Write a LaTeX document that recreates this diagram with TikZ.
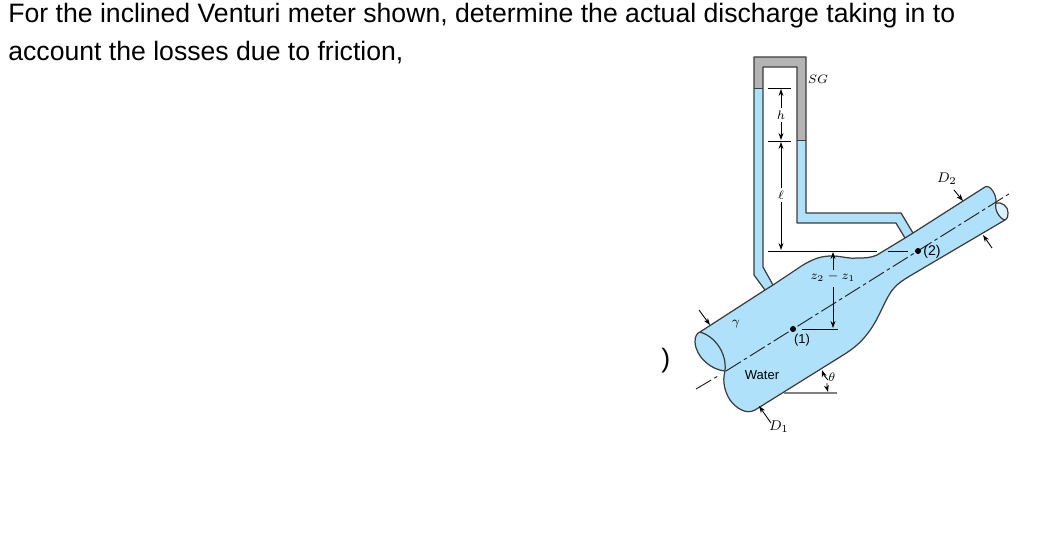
\documentclass[tikz,border=0pt]{standalone}
\usepackage{amsmath}
\usepackage{fontspec}
\setmainfont{Liberation Sans}
\usetikzlibrary{arrows.meta}
\definecolor{water}{HTML}{B0E1FB}
\definecolor{fluid}{HTML}{B4B4B4}
\definecolor{wall}{HTML}{3C3C3C}
\tikzset{
	tube/.style={draw=wall, line width=0.7pt, line join=round},
	dim/.style={draw=black, line width=0.5pt, -{Stealth[length=4pt,width=2.8pt]}},
	datum/.style={draw=black, line width=0.5pt},
	axis/.style={draw=black!85, line width=0.55pt, dash pattern=on 10pt off 2pt on 2pt off 2pt},
	lbl/.style={font=\fontsize{7.4}{8}\selectfont, inner sep=0pt},
	prose/.style={font=\fontsize{15.15}{17}\selectfont, anchor=base west, inner sep=0pt}
}

\begin{document}
\begin{tikzpicture}[x=0.02cm, y=-0.02cm]
		\useasboundingbox (0,0) rectangle (1039,548);

		\node[prose] (line1) at (8,22) {For the inclined Venturi meter shown, determine the actual discharge taking in to};
		\node[prose] (line2) at (8,60) {account the losses due to friction,};
		\node[prose] (paren) at (661,367) {)};

		% manometer
		\fill[water] (754,88) -- (763,88) -- (763,267) -- (773,285) -- (765,290) -- (754,275) -- cycle;
		\fill[water] (797,140) -- (806,140) -- (806,213) -- (901,213) -- (913,233) -- (905,238) -- (896,223) -- (797,223) -- cycle;
		\fill[fluid] (754,88) -- (754,57) -- (806,57) -- (806,140) -- (797,140) -- (797,67) -- (763,67) -- (763,88) -- cycle;
		\draw[tube] (765,290) -- (754,275) -- (754,57) -- (806,57) -- (806,213) -- (901,213) -- (913,233);
		\draw[tube] (773,285) -- (763,267) -- (763,67) -- (797,67) -- (797,223) -- (896,223) -- (905,238);
		\draw[tube, line width=0.5pt] (754,88) -- (763,88);
		\draw[tube, line width=0.5pt] (797,140) -- (806,140);

		% pipe
		\draw[tube, fill=water] (700,332) -- (765,290) -- (773,285) -- (803,265)
			.. controls (815,258) and (822,256) .. (832,256)
			.. controls (842,256) and (848,259) .. (857,258)
			.. controls (865,258) and (870,258) .. (877,255)
			-- (905,238) -- (913,233) -- (985,187)
			.. controls (990,184) and (997,195) .. (996,203)
			-- (1005,220) -- (920,270)
			.. controls (905,279) and (896,283) .. (889,295)
			.. controls (882,307) and (878,320) .. (868,333)
			.. controls (860,344) and (850,351) .. (840,357)
			-- (755,410)
			.. controls (746,415) and (736,408) .. (730,400)
			.. controls (725,392) and (722,382) .. (725,371)
			.. controls (712,370) and (696,358) .. (695,342)
			.. controls (695,336) and (697,333) .. (700,332);
		\draw[tube, fill=water] (700,332) .. controls (714,336) and (727,352) .. (725,371);
		\draw[tube, fill=water!45] (996,203) .. controls (1001,201) and (1009,207) .. (1008,213)
			.. controls (1008,218) and (1006,220) .. (1005,220)
			.. controls (1000,219) and (994,210) .. (996,203);

		% centre line
		\coordinate (axisa) at (696,389);
		\coordinate (axisb) at (718,376);
		\coordinate (axisc) at (726,371);
		\coordinate (axisd) at (1012,192);
		\draw[axis] (axisa) -- (axisb);
		\draw[axis] (axisc) -- (axisd);

		\filldraw (793,329) circle (2.6);
		\filldraw (918,251) circle (2.6);
		\node[lbl] (one) at (802,340) {(1)};
		\node[lbl, font=\fontsize{8}{9}\selectfont] (two) at (932,252) {(2)};

		% levels
		\draw[datum] (768,88) -- (791,88);
		\draw[datum] (768,141) -- (791,141);
		\draw[datum] (768,251) -- (877,251);
		\draw[datum] (888,251) -- (908,251);
		\draw[datum] (802,329) -- (838,329);
		\draw[draw=gray, line width=0.8pt] (784,393) -- (837,393);

		\node[lbl] (h) at (781,115) {$h$};
		\node[lbl] (ell) at (781,195) {$\ell$};
		\node[lbl] (dz) at (833,277) {$z_2 - z_1$};
		\node[lbl] (sg) at (818,79) {$SG$};
		\node[lbl] (gam) at (736,324) {$\gamma$};
		\node[lbl] (wat) at (762,375) {Water};
		\node[lbl] (th) at (832,377) {$\theta$};
		\node[lbl, font=\fontsize{8}{9}\selectfont] (d1) at (779,427) {$D_1$};
		\node[lbl, font=\fontsize{8}{9}\selectfont] (d2) at (947,179) {$D_2$};

		\draw[dim] (781,108) -- (781,89);
		\draw[dim] (781,122) -- (781,140);
		\draw[dim] (781,188) -- (781,142);
		\draw[dim] (781,202) -- (781,250);
		\draw[dim] (833,270) -- (833,252);
		\draw[dim] (833,287) -- (833,328);
		\draw[dim] (771,423) -- (759,406);
		\draw[dim] (699,310) -- (710,325);
		\draw[dim] (954,190) -- (963,201);
		\draw[dim] (992,248) -- (983,235);
		\draw[dim] (828,380) to[bend left=12] (822,370);
		\draw[dim] (827,383) to[bend right=8] (828,392);
	\end{tikzpicture}
\end{document}
